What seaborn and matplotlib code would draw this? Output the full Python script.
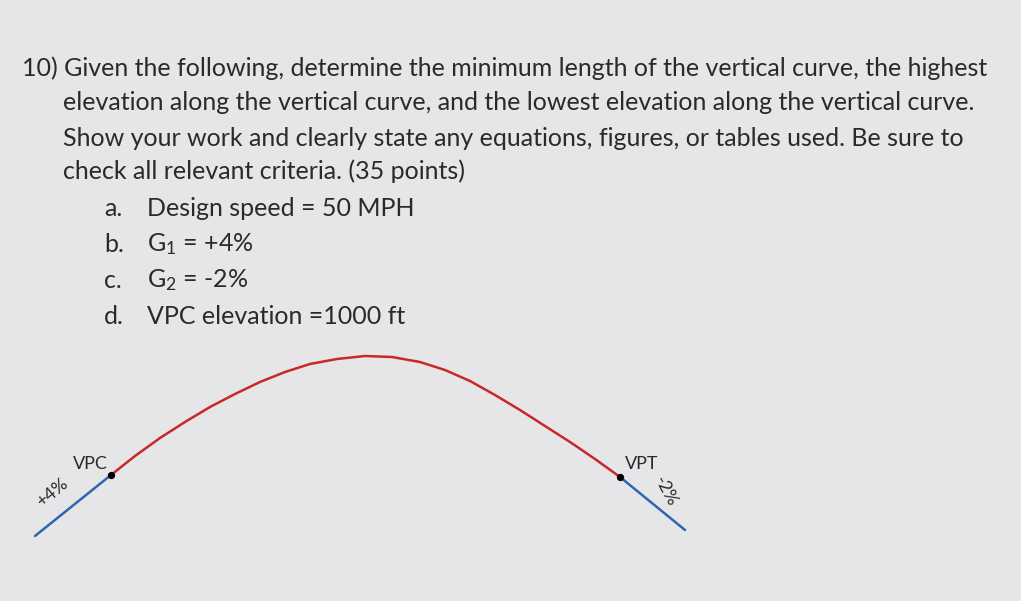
import matplotlib
matplotlib.use("Agg")
import matplotlib.pyplot as plt
import seaborn as sns
import pandas as pd

sns.set_style("white")
plt.rcParams['font.family'] = ['Lato', 'DejaVu Sans']
plt.rcParams['mathtext.default'] = 'regular'

# Problem text lines (x, y in pixels, text)
lines = [
    (22, 68, "10) Given the following, determine the minimum length of the vertical curve, the highest"),
    (63, 102, "elevation along the vertical curve, and the lowest elevation along the vertical curve."),
    (63, 138, "Show your work and clearly state any equations, figures, or tables used. Be sure to"),
    (63, 171, "check all relevant criteria. (35 points)"),
]
items = ["a.", "b.", "c.", "d."]
item_text = ["Design speed = 50 MPH", "G$_1$ = +4%", "G$_2$ = -2%", "VPC elevation =1000 ft"]
item_y = [209, 244, 280, 316]

# Sketch of the crest curve (pixels)
curve_x = [111, 135, 160, 185, 210, 235, 260, 285, 310, 337, 365, 392, 420, 445, 470, 495, 520, 545, 570, 595, 620]
curve_y = [475, 456, 438, 422, 407, 394, 382, 372, 364, 359, 356, 357, 362, 370, 381, 395, 410, 426, 442, 459, 477]
g1_x, g1_y = [35, 111], [536, 475]
g2_x, g2_y = [620, 685], [477, 530]

fig = plt.figure(figsize=(10.21, 6.01), dpi=100)
fig.patch.set_facecolor('#e6e6e8')
ax = fig.add_axes([0, 0, 1, 1])
ax.set_facecolor('#e6e6e8')
ax.set_xlim(0, 1021)
ax.set_ylim(601, 0)
ax.axis('off')

fs = 18
for x, y, t in lines:
    ax.text(x, y, t, fontsize=fs, color='#2a2a2a', va='center', ha='left')
for lab, t, y in zip(items, item_text, item_y):
    ax.text(104, y, lab, fontsize=fs, color='#2a2a2a', va='center')
    ax.text(147, y, t, fontsize=fs, color='#2a2a2a', va='center')

df = pd.DataFrame({'x': curve_x, 'y': curve_y})
sns.lineplot(data=df, x='x', y='y', ax=ax, color='#c8282a', lw=1.8, sort=False)
ax.plot(g1_x, g1_y, color='#2f66b0', lw=1.8)
ax.plot(g2_x, g2_y, color='#2f66b0', lw=1.8)
ax.scatter([111, 620], [475, 477], color='black', s=18, zorder=5)

ax.text(90, 464, "VPC", fontsize=13, color='#2a2a2a', ha='center', va='center')
ax.text(642, 464, "VPT", fontsize=13, color='#2a2a2a', ha='center', va='center')
ax.text(52, 493, "+4%", fontsize=13, color='#2a2a2a', ha='center', va='center', rotation=40)
ax.text(666, 492, "-2%", fontsize=13, color='#2a2a2a', ha='center', va='center', rotation=-62)
ax.set_xlabel('')
ax.set_ylabel('')

fig.savefig('out.png', dpi=100, facecolor=fig.get_facecolor())
